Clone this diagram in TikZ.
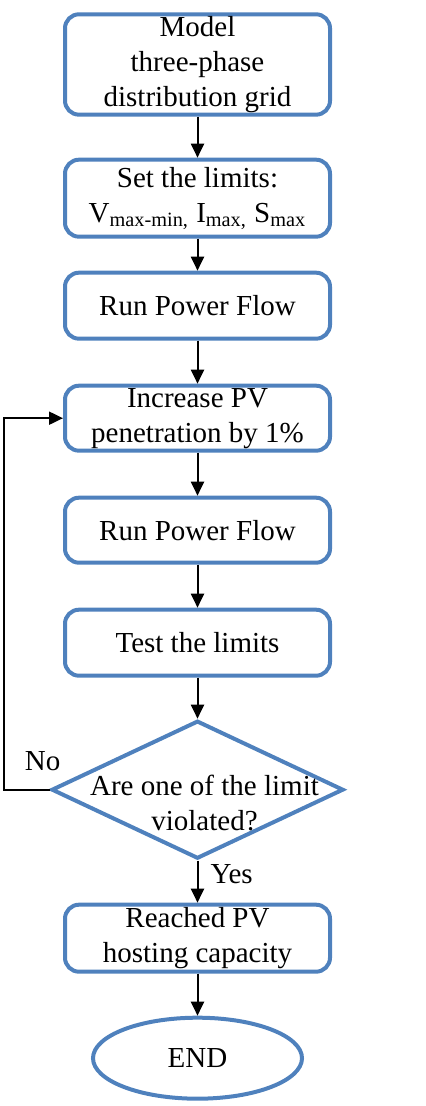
\documentclass[tikz,border=0pt]{standalone}
\usepackage{fontspec}
\setmainfont{Liberation Serif}
\usetikzlibrary{arrows.meta,positioning,shapes.geometric}
\definecolor{flowblue}{RGB}{79,129,189}

\begin{document}
\begin{tikzpicture}[
  node distance=21pt,
  font=\fontsize{14.5pt}{17.5pt}\selectfont,
  box/.style={draw=flowblue,line width=2pt,fill=white,rounded corners=7pt,align=center,inner sep=1pt,minimum width=132.5pt},
  decision/.style={draw=flowblue,line width=2pt,diamond,inner sep=0pt,minimum width=146pt,minimum height=69pt},
  term/.style={draw=flowblue,line width=2pt,ellipse,inner sep=0pt,minimum width=104.5pt,minimum height=40.5pt},
  arr/.style={-{Triangle[length=7pt,width=6.5pt]},line width=1pt}
]
\useasboundingbox (0,0) rectangle (213pt,-553pt);
\node[box,minimum height=49.5pt] (model) at (98.75pt,-32.25pt) {Model\\three-phase\\distribution grid};
\node[box,minimum height=38.5pt,below=20.5pt of model] (limits) {Set the limits:\\V\textsubscript{max-min,} I\textsubscript{max,} S\textsubscript{max}};
\node[box,minimum height=33pt,below=16pt of limits] (pf1) {Run Power Flow};
\node[box,minimum height=32.5pt,below=21.5pt of pf1] (inc) {Increase PV\\penetration by 1\%};
\node[box,minimum height=32.5pt,below=21.5pt of inc] (pf2) {Run Power Flow};
\node[box,minimum height=33pt,below=21.5pt of pf2] (test) {Test the limits};
\node[decision,below=20.5pt of test,label={[align=center,xshift=3.5pt,yshift=-6.5pt]center:Are one of the limit\\violated?}] (viol) {};
\node[box,minimum height=33.5pt,below=of viol] (reach) {Reached PV\\hosting capacity};
\node[term,below=of reach] (end) {END};
\coordinate (loopx) at (2pt,0);
\draw[arr] (model) -- (limits);
\draw[arr] (limits) -- (pf1);
\draw[arr] (pf1) -- (inc);
\draw[arr] (inc) -- (pf2);
\draw[arr] (pf2) -- (test);
\draw[arr] (test) -- (viol);
\draw[arr] (viol) -- node[pos=0.33,right=6pt,inner sep=0pt]{Yes} (reach);
\draw[arr] (reach) -- (end);
\draw[arr] (viol.west) -- node[pos=0.15,above=9pt,inner sep=0pt]{No} (viol.west -| loopx) |- (inc.west);
\end{tikzpicture}
\end{document}
